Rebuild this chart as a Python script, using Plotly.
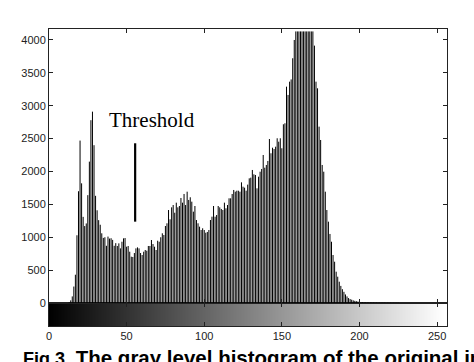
import plotly.graph_objects as go

gray_levels = list(range(256))
pixel_counts = [
    0, 0, 0, 0, 0, 0, 0, 0, 0, 0, 0, 0, 0, 10, 40, 100,
    250, 430, 1030, 1700, 2470, 1820, 1310, 1170, 1210, 1640, 2150, 2780, 2910, 2400, 1630, 1410,
    1260, 1190, 1060, 990, 1000, 870, 1010, 980, 985, 960, 870, 910, 867, 907, 831, 932,
    983, 988, 856, 867, 780, 704, 700, 760, 831, 846, 831, 760, 730, 780, 806, 795,
    867, 867, 958, 897, 856, 806, 947, 932, 1000, 1060, 1034, 1171, 1212, 1414, 1273, 1455,
    1490, 1373, 1526, 1455, 1475, 1597, 1526, 1658, 1490, 1693, 1567, 1608, 1541, 1389, 1475, 1262,
    1212, 1161, 1110, 1136, 1110, 1069, 1080, 1110, 1262, 1313, 1475, 1313, 1338, 1475, 1455, 1430,
    1414, 1526, 1440, 1490, 1592, 1592, 1658, 1719, 1693, 1708, 1708, 1693, 1835, 1769, 1754, 1708,
    1800, 1896, 1906, 2023, 1957, 1947, 1744, 1921, 1997, 2038, 2251, 2058, 2099, 2160, 2494, 2277,
    2362, 2342, 2377, 2505, 2453, 2505, 2353, 2718, 2733, 3290, 3164, 3366, 3400, 3722, 4000, 4130,
    4130, 4130, 4130, 4130, 4130, 4130, 4130, 4130, 4130, 4130, 4130, 3914, 3366, 3265, 2682, 2479,
    2099, 1997, 1693, 1414, 1237, 1050, 932, 730, 628, 476, 400, 324, 260, 210, 170, 130,
    100, 75, 60, 50, 40, 33, 28, 22, 18, 15, 12, 12, 10, 10, 9, 8,
    8, 7, 7, 6, 6, 5, 5, 5, 5, 4, 4, 4, 4, 3, 3, 3,
    3, 3, 2, 2, 2, 2, 2, 0, 0, 0, 0, 0, 0, 0, 0, 0,
    0, 0, 0, 0, 0, 0, 0, 0, 0, 0, 0, 0, 0, 0, 0, 0,
]
y_ticks = [0, 500, 1000, 1500, 2000, 2500, 3000, 3500, 4000]
x_ticks = [0, 50, 100, 150, 200, 250]

threshold_level = 55.5
threshold_span = [1237, 2429]
threshold_label = "Threshold"
caption_label = "Fig.3."
caption = "The gray level histogram of the original image"
title_text = "Histogram of the gray level image"

W, H = 474, 362
L, R, T, B = 48.7, 474 - 446.7, 29, 362 - 326
plot_w = W - L - R
plot_h = H - T - B
split = (326 - 303) / plot_h


def paper_y(px):
    return (H - B - px) / plot_h


def paper_x(px):
    return (px - L) / plot_w


# stems: one vertical segment per gray level
stem_x, stem_y = [], []
for g, c in zip(gray_levels, pixel_counts):
    if c > 0:
        stem_x += [g, g, None]
        stem_y += [0, c, None]

fig = go.Figure()

fig.add_trace(go.Scatter(
    x=stem_x, y=stem_y, mode="lines",
    line=dict(color="#000000", width=1),
    xaxis="x2", yaxis="y", showlegend=False, hoverinfo="skip",
))

fig.add_trace(go.Scatter(
    x=[threshold_level, threshold_level], y=threshold_span,
    mode="lines", line=dict(color="#000000", width=2.2),
    xaxis="x2", yaxis="y", showlegend=False,
))

fig.add_trace(go.Heatmap(
    z=[gray_levels], x=gray_levels, y=[0.5],
    colorscale=[[0, "#000000"], [1, "#ffffff"]], zmin=0, zmax=255,
    showscale=False, xaxis="x", yaxis="y2", hoverinfo="skip",
))

axis_common = dict(showline=True, linecolor="#222222", linewidth=1, mirror="ticks",
                   ticks="inside", ticklen=4, tickcolor="#222222", zeroline=False,
                   showgrid=False, automargin=False)
fig.update_layout(
    width=W, height=H,
    margin=dict(l=L, r=R, t=T, b=B, pad=0, autoexpand=False),
    paper_bgcolor="white", plot_bgcolor="white",
    font=dict(family="Liberation Sans, Arial, sans-serif", size=11, color="#222222"),
    xaxis=dict(range=[0, 256.4], anchor="y2", tickvals=x_ticks, **axis_common),
    xaxis2=dict(range=[0, 256.4], anchor="y", matches="x", tickvals=x_ticks,
                showticklabels=False, **axis_common),
    yaxis=dict(domain=[split, 1], range=[0, 4167], anchor="x2", tickvals=y_ticks, **axis_common),
    yaxis2=dict(domain=[0, split], range=[0, 1], anchor="x", showticklabels=False,
                showline=True, linecolor="#222222", linewidth=1, mirror=True,
                ticks="", zeroline=False, showgrid=False, automargin=False),
)

fig.add_annotation(
    x=66.4, y=2779, xref="x2", yref="y", text=threshold_label, showarrow=False,
    font=dict(family="Liberation Serif, Times New Roman, serif", size=21, color="#000000"),
    xanchor="center", yanchor="middle",
)

fig.add_annotation(
    x=paper_x(21), y=paper_y(344), xref="paper", yref="paper",
    text=("<span style='font-size:18px'><b>" + caption_label + "</b></span> "
          "<b>" + caption + "</b>"),
    showarrow=False,
    font=dict(family="Liberation Sans, Arial, sans-serif", size=20.5, color="#000000"),
    xanchor="left", yanchor="top",
)

fig.add_annotation(
    x=0.47, y=paper_y(1.5), xref="paper", yref="paper",
    text="<b>" + title_text + "</b>", showarrow=False,
    font=dict(family="Liberation Sans, Arial, sans-serif", size=15, color="#000000"),
    xanchor="center", yanchor="bottom",
)

fig.write_html(
    "out.html",
    config={"displayModeBar": False},
    post_script="document.body.style.margin='0';document.body.style.overflow='hidden';",
)
